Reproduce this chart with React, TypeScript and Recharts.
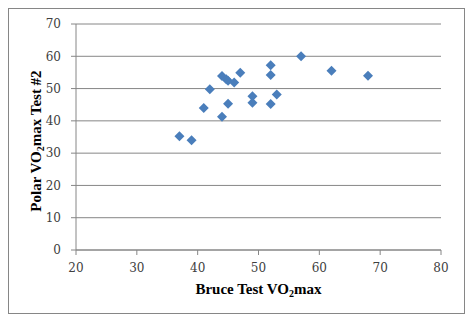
import { ScatterChart, Scatter, XAxis, YAxis, CartesianGrid, Label } from 'recharts';

// Bruce test VO2max (x) vs Polar test #2 (y)
const bruce = [37, 39, 41, 42, 44, 44, 44.7, 45, 45, 46, 47, 49, 49, 52, 52, 52, 53, 57, 62, 68];
const polar = [35.2, 34, 44, 49.8, 41.3, 53.9, 52.9, 45.3, 52.4, 51.9, 54.9, 47.6, 45.6, 57.2, 54.2, 45.2, 48.2, 60, 55.5, 54];

const xTicks = [20, 30, 40, 50, 60, 70, 80];
const yTicks = [0, 10, 20, 30, 40, 50, 60, 70];

const data = bruce.map((x, i) => ({ x, y: polar[i] }));

const AXIS = '#868686';
const tickStyle = { fill: '#404040', fontSize: 12, fontFamily: 'DejaVu Serif' };
const titleFont = "'Liberation Serif', serif";

const Diamond = (props: any) => {
  const { cx, cy } = props;
  const r = 5;
  return <polygon points={`${cx},${cy - r} ${cx + r},${cy} ${cx},${cy + r} ${cx - r},${cy}`} fill="#4A7EBB" />;
};

const XTitle = (props: any) => {
  const { x, y, width } = props.viewBox;
  return (
    <text x={x + width / 2} y={y + 43.5} textAnchor="middle" fontFamily={titleFont} fontWeight="bold" fontSize={15} fill="#000">
      Bruce Test VO<tspan dy={3} fontSize={10}>2</tspan>
      <tspan dy={-3}>max</tspan>
    </text>
  );
};

const YTitle = (props: any) => {
  const { x, y, height } = props.viewBox;
  const cx = x + 40.5;
  const cy = y + height / 2 + 4;
  return (
    <text x={cx} y={cy} transform={`rotate(-90, ${cx}, ${cy})`} textAnchor="middle" fontFamily={titleFont} fontWeight="bold" fontSize={15} fill="#000">
      Polar VO<tspan dy={3} fontSize={10}>2</tspan>
      <tspan dy={-3}>max Test #2</tspan>
    </text>
  );
};

export default function App() {
  return (
    <div style={{ position: 'absolute', left: 0, top: 0, width: 474, height: 323, background: '#fff' }}>
      <div
        style={{
          position: 'absolute',
          left: 8,
          top: 8,
          width: 457,
          height: 306,
          border: `1px solid ${AXIS}`,
          boxSizing: 'border-box',
        }}
      />
      <ScatterChart width={474} height={323} margin={{ top: 24, right: 33, left: 0, bottom: 0 }}>
        <CartesianGrid vertical={false} stroke={AXIS} strokeWidth={1} />
        <XAxis
          type="number"
          dataKey="x"
          domain={[20, 80]}
          ticks={xTicks}
          interval={0}
          height={73}
          stroke={AXIS}
          tickSize={5}
          tickMargin={8}
          tick={tickStyle}
        >
          <Label content={XTitle} />
        </XAxis>
        <YAxis
          type="number"
          dataKey="y"
          domain={[0, 70]}
          ticks={yTicks}
          interval={0}
          width={76}
          stroke={AXIS}
          tickSize={5}
          tickMargin={10}
          tick={tickStyle}
        >
          <Label content={YTitle} />
        </YAxis>
        <Scatter data={data} shape={Diamond} isAnimationActive={false} />
      </ScatterChart>
    </div>
  );
}
